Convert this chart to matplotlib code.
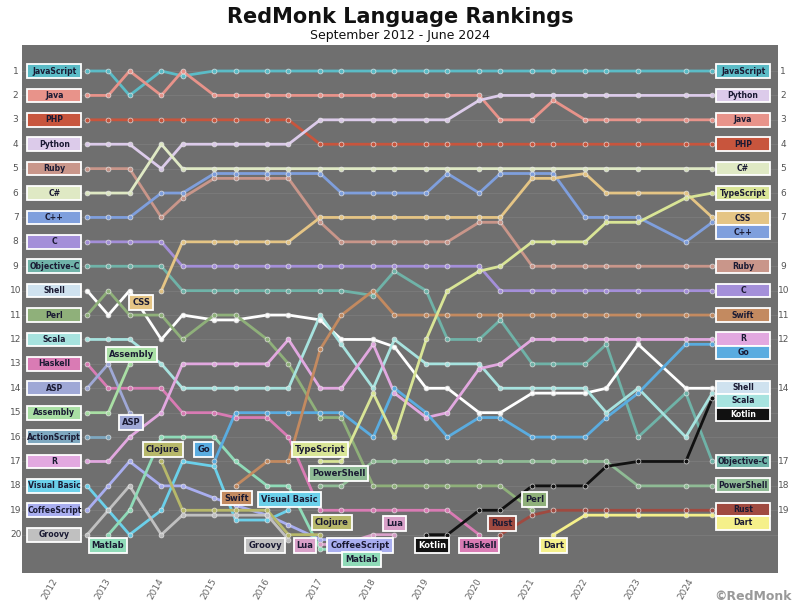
import matplotlib.pyplot as plt
import matplotlib.patches as patches
import numpy as np

N = None

# survey dates (fractional years)
dates = [2012.7, 2013.1, 2013.5, 2014.1, 2014.5, 2015.1, 2015.5, 2016.1, 2016.5,
         2017.1, 2017.5, 2018.1, 2018.5, 2019.1, 2019.5, 2020.1, 2020.5, 2021.1,
         2021.5, 2022.1, 2022.5, 2023.1, 2024.0, 2024.5]
year_ticks = list(range(2012, 2025))

# ranks (fractional = tie offset)
javascript = [1, 1, 2, 1, 1.2] + [1] * 19
java = [2, 2, 1, 2, 1, 2, 2, 2, 2, 2, 2, 2, 2, 2, 2, 2, 3, 3, 2.2, 3, 3, 3, 3, 3]
php = [3] * 9 + [4] * 15
python = [4, 4, 4, 5, 4, 4, 4, 4, 4, 3, 3, 3, 3, 3, 3, 2.2, 2, 2, 2, 2, 2, 2, 2, 2]
ruby = [5, 5, 5, 7, 6.2, 5.4, 5.4, 5.4, 5.4, 7.2, 8, 8, 8, 8, 8, 7.2, 7.2, 9, 9, 9, 9, 9, 9, 9]
csharp = [6, 6, 6, 4] + [5] * 20
cpp = [7, 7, 7, 6, 6, 5.2, 5.2, 5.2, 5.2, 5.2, 6, 6, 6, 6, 5.2, 6, 5.2, 5.2, 5.2, 7, 7, 7, 8, 7.2]
c = [8, 8, 8, 8] + [9] * 12 + [10] * 8
objc = [9, 9, 9, 9, 10, 10, 10, 10, 10, 10, 10, 10.2, 9.2, 10, 12, 12, 11.2, 13, 13, 13, 12.2, 16, 14.2, 17]
shell = [10, 11, 10, 12, 11, 11.2, 11.2, 11, 11, 11.2, 12, 12, 12.3, 14, 14, 15, 15, 14.2, 14.2, 14.2, 14, 12.2, 14, 14]
perl = [11, 10, 11, 11, 12, 11, 11, 12, 13, 15.2, 15.2, 18, 18, 18, 18, 18, 18, 19] + [N] * 6
scala = [12, 12, 12, 13, 14, 14, 14, 14, 14, 11, 12.2, 14, 12, 13, 13, 13, 14, 14, 14, 14, 15, 14, 16, 14.2]
haskell = [13, 14, 14, 14, 15, 15, 15.2, 15.2, 16, 19, 19, 19, 19, 19, 19, 20] + [N] * 8
asp = [14, 13, 15] + [N] * 21
assembly = [15, 15, 13] + [N] * 21
actionscript = [16, 16] + [N] * 22
r_lang = [17, 17, 16, 15, 13, 13, 13, 13, 12, 14, 14, 12.2, 14.2, 15.2, 15, 13.2, 13, 12, 12, 12, 12, 12, 12, 12]
visualbasic = [18, 19, 20, 19, 17, 17.2, 19.4, 19.4, 19] + [N] * 15
coffeescript = [19, 18, 17, 18, 18, 18.5, 18.8, 19.2, 19.6, 20.2, 20.2] + [N] * 13
groovy = [20, 19, 18, 20, 19.2, 19.2, 19.2, 19.2, 20.2] + [N] * 15
matlab = [N, 20, 19, 16, 16, 16, 17, 18, 18, 20.6, 20.6] + [N] * 13
clojure = [N, N, N, 17, 19, 19, 19, 19, 20, 20] + [N] * 14
css = [N, N, N, 10, 8, 8, 8, 8, 8, 7, 7, 7, 7, 7, 7, 7, 7, 5.4, 5.4, 5.2, 6, 6, 6, 7]
go = [N] * 5 + [17, 15, 15, 15, 15, 15, 16, 14, 15, 16, 15.2, 15.2, 16, 16, 16, 15.2, 14.2, 12.2, 12.2]
swift = [N] * 6 + [18, 17, 17, 12.4, 11, 10, 11] + [11] * 11
typescript = [N] * 9 + [17, 17, 14.2, 16, 12, 10, 9.2, 9, 8, 8, 8, 7.2, 7.2, 6.2, 6]
powershell = [N] * 9 + [18, 18] + [17] * 10 + [18, 18, 18]
lua = [N] * 9 + [20.4, 20.4, 20, 20] + [N] * 11
kotlin = [N] * 13 + [20, 20, 19, 19, 18, 18, 18, 17.2, 17, 17, 14.4]
rust = [N] * 16 + [20, 19.2, 19, 19, 19, 19, 19, 19]
dart = [N] * 18 + [20, 19.2, 19.2, 19.2, 19.2, 19.2]

languages = [
    ("JavaScript", javascript, "#5bbcc7"), ("Java", java, "#e8938a"),
    ("PHP", php, "#c8553d"), ("Python", python, "#dccbea"),
    ("Ruby", ruby, "#c9968a"), ("C#", csharp, "#dfe9c4"),
    ("C++", cpp, "#7f9fdd"), ("C", c, "#a48fd9"),
    ("Objective-C", objc, "#6fb3a8"), ("Shell", shell, "#ffffff"),
    ("Perl", perl, "#8fb07a"), ("Scala", scala, "#a7e3df"),
    ("Haskell", haskell, "#d97bb4"), ("ASP", asp, "#9fa8d6"),
    ("Assembly", assembly, "#a9dfa4"), ("ActionScript", actionscript, "#7ea8c0"),
    ("R", r_lang, "#e2a8e0"), ("Visual Basic", visualbasic, "#6bd0ea"),
    ("CoffeeScript", coffeescript, "#a9aef0"), ("Groovy", groovy, "#c0c0c0"),
    ("Matlab", matlab, "#8fdbb8"), ("Clojure", clojure, "#b7b86a"),
    ("CSS", css, "#e5c585"), ("Go", go, "#5aace0"), ("Swift", swift, "#c38a60"),
    ("TypeScript", typescript, "#d9e596"), ("PowerShell", powershell, "#8fbb95"),
    ("Lua", lua, "#d8a0c8"), ("Kotlin", kotlin, "#111111"),
    ("Rust", rust, "#a04a40"), ("Dart", dart, "#f5f08a"),
]
label_colors = {"Shell": "#cfe2ef"}

# right-side end labels: (name, rank position)
end_labels = [("JavaScript", 1), ("Python", 2), ("Java", 3), ("PHP", 4), ("C#", 5),
              ("TypeScript", 6), ("CSS", 7.03), ("C++", 7.6), ("Ruby", 9), ("C", 10),
              ("Swift", 11), ("R", 11.97), ("Go", 12.53), ("Shell", 13.97), ("Scala", 14.52),
              ("Kotlin", 15.07), ("Objective-C", 17), ("PowerShell", 17.97), ("Rust", 18.97),
              ("Dart", 19.52)]
right_ticks = [1, 2, 3, 4, 5, 6, 7, 9, 10, 11, 12, 14, 17, 18, 19]

# inline labels where a language enters/leaves: (name, x, rank)
mid_labels = [("CSS", 2013.72, 10.5), ("Assembly", 2013.53, 12.6), ("ASP", 2013.53, 15.4),
              ("Clojure", 2014.13, 16.5), ("Go", 2014.9, 16.5), ("Swift", 2015.52, 18.5),
              ("Visual Basic", 2016.52, 18.55), ("Groovy", 2016.06, 20.45), ("Lua", 2016.81, 20.45),
              ("TypeScript", 2017.1, 16.5), ("PowerShell", 2017.45, 17.5), ("Clojure", 2017.32, 19.5),
              ("CoffeeScript", 2017.85, 20.45), ("Matlab", 2017.88, 21.0), ("Matlab", 2013.09, 20.45),
              ("Lua", 2018.5, 19.55), ("Kotlin", 2019.21, 20.45), ("Haskell", 2020.1, 20.45),
              ("Rust", 2020.53, 19.55), ("Perl", 2021.15, 18.55), ("Dart", 2021.5, 20.45)]

fig = plt.figure(figsize=(8, 6.1), dpi=100, facecolor="white")
ax = fig.add_axes([22 / 800, 1 - 573 / 610, 756 / 800, 528 / 610])
ax.set_facecolor("#6f6f6f")
ax.set_xlim(2011.47, 2025.74)
ax.set_ylim(21.57, -0.066)
for spine in ax.spines.values():
    spine.set_visible(False)
for k in range(1, 21):
    ax.axhline(k, color="#7c7c7c", lw=0.6, zorder=0)

colors = {}
for name, vals, col in languages:
    colors[name] = label_colors.get(name, col)
    y = np.array([np.nan if v is None else v for v in vals], dtype=float)
    ax.plot(dates, y, color=col, lw=2, zorder=2, solid_capstyle="round")
    ax.plot(dates, y, "o", ms=3.5, mfc=col, mec="#e8e8e8", mew=0.5, alpha=0.9, zorder=3)

BOX_W = 54 / 53.0
BOX_H = 0.56


def text_color(name):
    return "white" if name == "Kotlin" else "#1a1a33"


def fixed_box(xc, yv, name):
    ax.add_patch(patches.Rectangle((xc - BOX_W / 2, yv - BOX_H / 2), BOX_W, BOX_H,
                                   fc=colors[name], ec="white", lw=1.3, zorder=5,
                                   clip_on=False))
    ax.text(xc, yv, name, ha="center", va="center", fontsize=5.6, fontweight="bold",
            color=text_color(name), zorder=6, clip_on=False)


def tag(x, yv, name):
    ax.text(x, yv, name, ha="center", va="center", fontsize=6.0, fontweight="bold",
            color=text_color(name), zorder=5, clip_on=False,
            bbox=dict(boxstyle="square,pad=0.35", fc=colors[name], ec="white", lw=1.3))


# start labels on the left
for name, vals, col in languages:
    if vals[0] is not None:
        fixed_box(2012.08, vals[0], name)
for k in range(1, 21):
    ax.text(2011.35, k, str(k), ha="center", va="center", fontsize=6.5, color="#555555",
            clip_on=False)
for name, yv in end_labels:
    fixed_box(2025.08, yv, name)
for k in right_ticks:
    ax.text(2025.84, k, str(k), ha="center", va="center", fontsize=6.5, color="#555555",
            clip_on=False)
for name, x, yv in mid_labels:
    tag(x, yv, name)

ax.set_xticks(year_ticks)
ax.set_xticklabels([str(y) for y in year_ticks], rotation=60, fontsize=6.5, color="#666666")
ax.tick_params(axis="x", length=0, pad=3)
ax.set_yticks([])

fig.text(0.5, 1 - 17 / 610, "RedMonk Language Rankings", ha="center", va="center",
         fontsize=15, fontweight="bold", color="#111111")
fig.text(0.5, 1 - 35 / 610, "September 2012 - June 2024", ha="center", va="center",
         fontsize=9, color="#111111")
fig.text(0.99, 1 - 596 / 610, "\u00a9RedMonk", ha="right", va="center", fontsize=9,
         fontweight="bold", color="#999999")

fig.savefig("out.png", dpi=100, facecolor="white")
